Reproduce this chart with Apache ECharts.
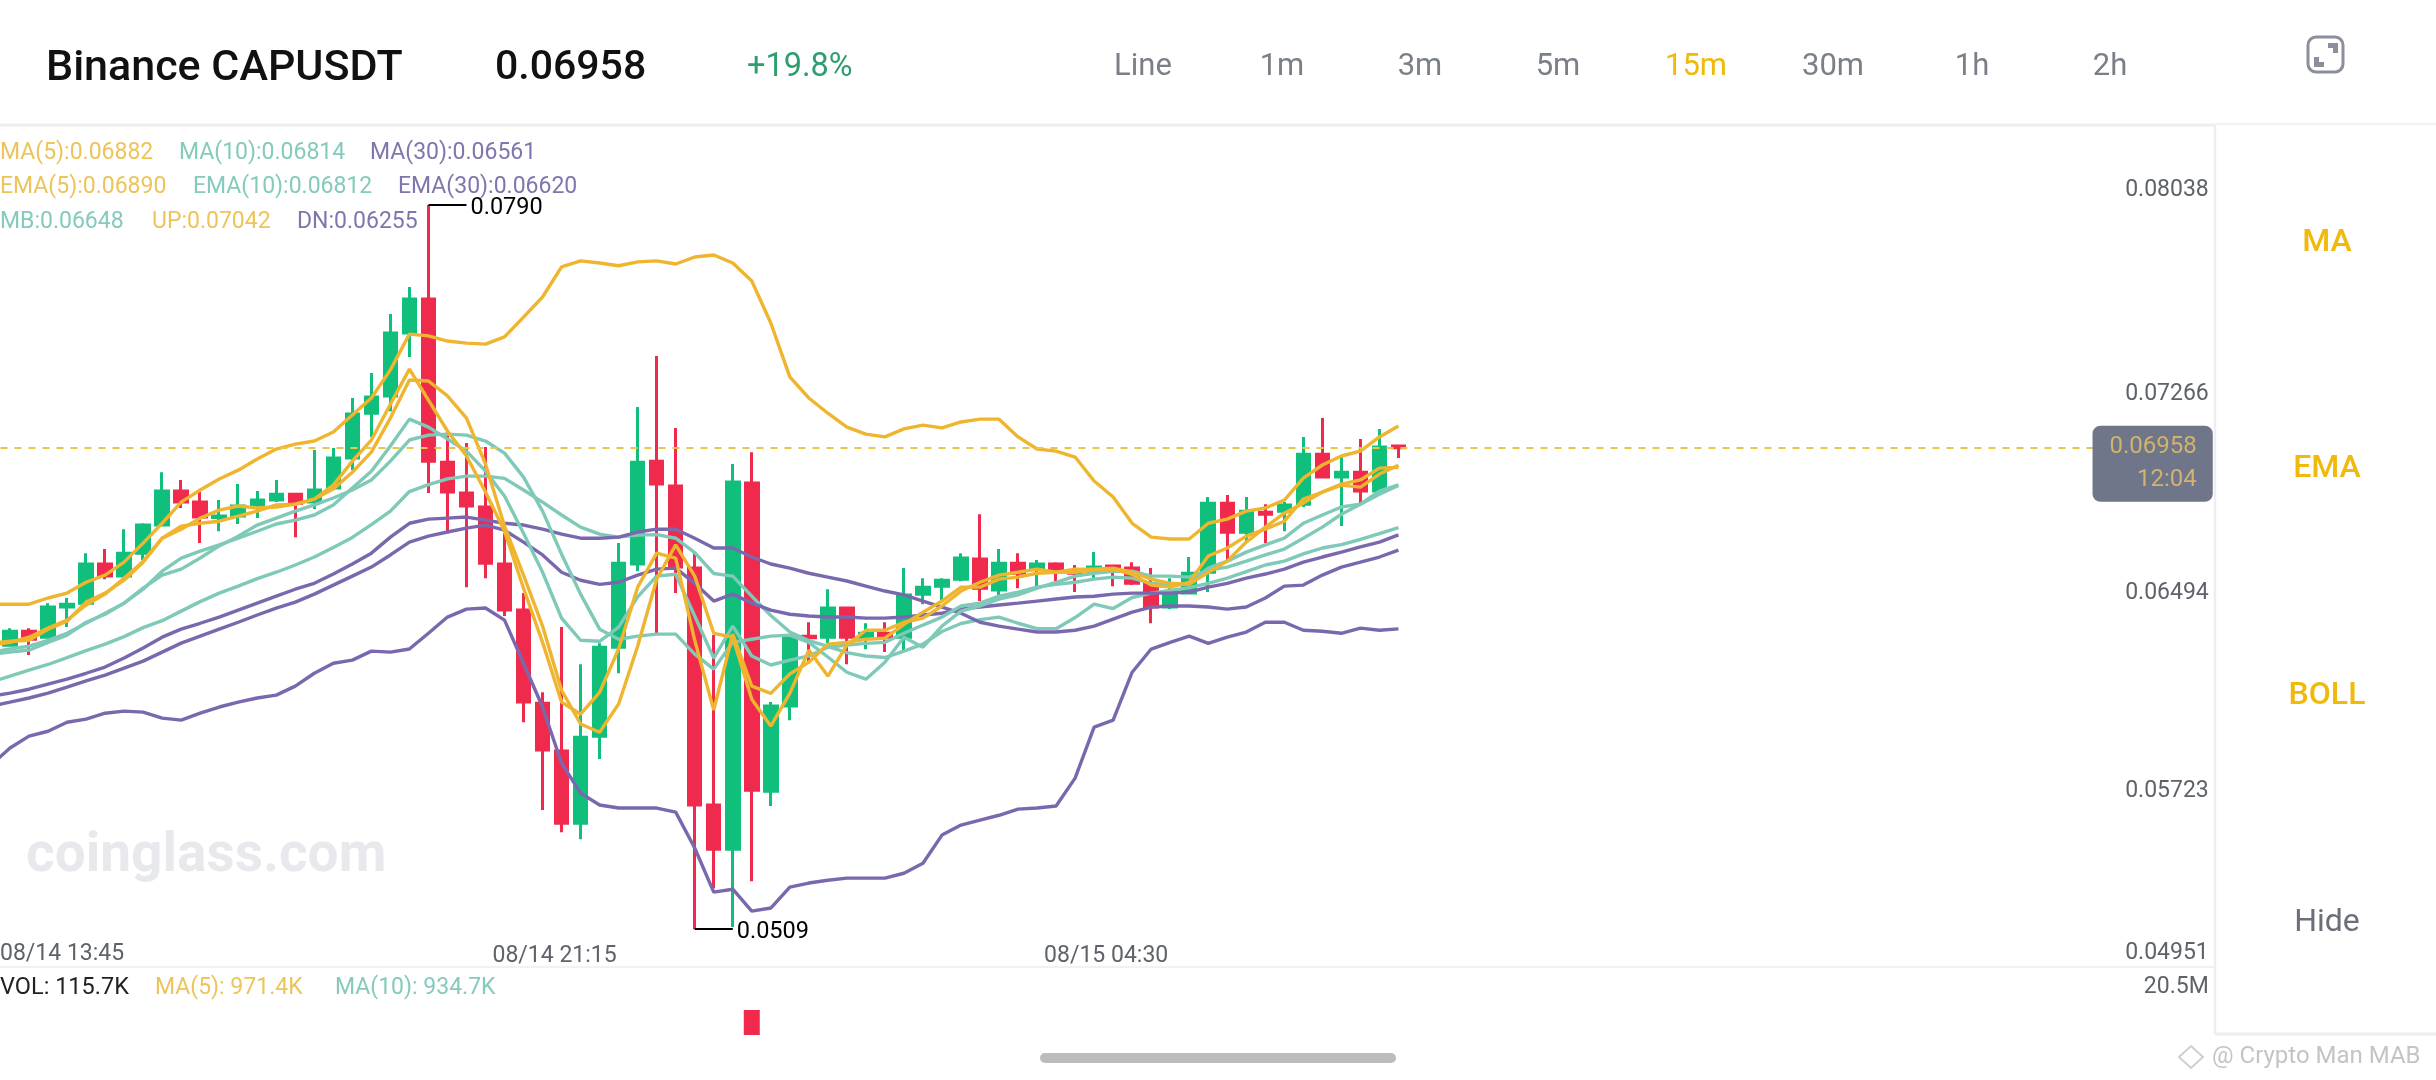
<!DOCTYPE html>
<html>
<head>
<meta charset="utf-8">
<title>Binance CAPUSDT</title>
<script src="https://cdn.jsdelivr.net/npm/echarts@6/dist/echarts.min.js"></script>
<style>html,body{margin:0;padding:0;background:#fff}#c{width:2436px;height:1080px}</style>
</head>
<body>
<div id="c"></div>
<script>
// Price-axis ticks and the volume scale
const priceTicks = [0.04951, 0.05723, 0.06494, 0.07266, 0.08038];
const volumeMax = 20500000;
const lastPrice = 0.06958;
const countdown = '12:04';
const highLabel = '0.0790', lowLabel = '0.0509';
const xLabelIndexes = [30, 59];
const timeframes = ['Line', '1m', '3m', '5m', '15m', '30m', '1h', '2h'];
const indicators = ['MA', 'EMA', 'BOLL', 'Hide'];

// Candles, one per 15 minutes from 08/14 14:00
const opens = [0.06192,0.06246,0.06223,0.06340,0.06355,0.06507,0.06460,0.06549,0.06658,0.06790,
0.06747,0.06687,0.06693,0.06736,0.06755,0.06778,0.06747,0.06802,0.06918,0.07092,
0.07159,0.07403,0.07535,0.06902,0.06782,0.06728,0.06507,0.06328,0.05967,0.05781,
0.05501,0.05839,0.06184,0.06507,0.06906,0.06810,0.06491,0.05572,0.05400,0.06821,
0.05625,0.05956,0.06227,0.06223,0.06336,0.06223,0.06238,0.06223,0.06390,0.06421,
0.06448,0.06526,0.06406,0.06510,0.06487,0.06507,0.06479,0.06479,0.06499,0.06491,
0.06428,0.06340,0.06394,0.06475,0.06743,0.06630,0.06708,0.06712,0.06739,0.06933,
0.06844,0.06863,0.06790,0.06965];
const closes = [0.06246,0.06215,0.06340,0.06351,0.06507,0.06460,0.06549,0.06658,0.06790,0.06747,
0.06689,0.06693,0.06732,0.06755,0.06778,0.06743,0.06794,0.06918,0.07089,0.07155,
0.07403,0.07535,0.06906,0.06786,0.06732,0.06510,0.06328,0.05971,0.05785,0.05501,
0.05835,0.06184,0.06510,0.06902,0.06817,0.06495,0.05572,0.05400,0.06825,0.05629,
0.05956,0.06223,0.06221,0.06336,0.06223,0.06238,0.06223,0.06387,0.06417,0.06444,
0.06530,0.06413,0.06510,0.06471,0.06507,0.06483,0.06471,0.06495,0.06495,0.06432,
0.06340,0.06398,0.06471,0.06743,0.06630,0.06712,0.06700,0.06736,0.06933,0.06844,
0.06863,0.06790,0.06961,0.06958];
const lows = [0.06192,0.06154,0.06223,0.06262,0.06340,0.06448,0.06460,0.06522,0.06658,0.06724,
0.06588,0.06634,0.06662,0.06685,0.06747,0.06611,0.06720,0.06802,0.06871,0.07000,
0.07100,0.07310,0.06782,0.06626,0.06417,0.06452,0.06305,0.05893,0.05552,0.05466,
0.05439,0.05750,0.06083,0.06479,0.06238,0.06394,0.05090,0.05249,0.05098,0.05276,
0.05568,0.05901,0.06122,0.06199,0.06118,0.06176,0.06165,0.06165,0.06351,0.06367,
0.06440,0.06363,0.06387,0.06413,0.06421,0.06440,0.06398,0.06452,0.06421,0.06425,
0.06277,0.06332,0.06394,0.06398,0.06522,0.06588,0.06588,0.06634,0.06728,0.06844,
0.06654,0.06736,0.06790,0.06918];
const highs = [0.06258,0.06258,0.06355,0.06375,0.06549,0.06565,0.06642,0.06665,0.06863,0.06833,
0.06786,0.06755,0.06817,0.06790,0.06833,0.06782,0.06949,0.06957,0.07151,0.07248,
0.07477,0.07582,0.07900,0.07019,0.06976,0.06961,0.06626,0.06394,0.06009,0.06262,
0.06118,0.06199,0.06588,0.07116,0.07314,0.07035,0.06549,0.06231,0.06895,0.06941,
0.05971,0.06231,0.06281,0.06409,0.06340,0.06277,0.06281,0.06491,0.06452,0.06452,
0.06549,0.06700,0.06565,0.06549,0.06522,0.06514,0.06503,0.06553,0.06499,0.06514,
0.06491,0.06452,0.06534,0.06767,0.06775,0.06767,0.06739,0.06747,0.07000,0.07073,
0.06922,0.06992,0.07031,0.06967];

// Indicator lines, one per 15 minutes from 08/14 13:45
const ma5 = [0.06192,0.06203,0.06223,0.06258,0.06289,0.06348,0.06390,0.06452,0.06518,0.06607,0.06642,
0.06685,0.06716,0.06732,0.06724,0.06728,0.06739,0.06759,0.06798,0.06863,0.06941,
0.07073,0.07221,0.07217,0.07159,0.07073,0.06895,0.06654,0.06464,0.06266,0.06017,
0.05886,0.05854,0.05964,0.06188,0.06448,0.06581,0.06460,0.06238,0.06223,0.05982,
0.05878,0.06005,0.06173,0.06072,0.06192,0.06250,0.06250,0.06281,0.06297,0.06344,
0.06402,0.06436,0.06464,0.06475,0.06487,0.06475,0.06487,0.06487,0.06491,0.06475,
0.06448,0.06432,0.06428,0.06475,0.06518,0.06592,0.06650,0.06704,0.06743,0.06786,
0.06817,0.06833,0.06879,0.06882];
const ema5 = [0.06200,0.06207,0.06211,0.06254,0.06285,0.06359,0.06394,0.06444,0.06514,0.06607,0.06654,
0.06665,0.06673,0.06693,0.06712,0.06736,0.06739,0.06759,0.06813,0.06906,0.06988,
0.07127,0.07263,0.07143,0.07023,0.06926,0.06786,0.06634,0.06413,0.06203,0.05971,
0.05924,0.06009,0.06177,0.06417,0.06549,0.06530,0.06211,0.05940,0.06235,0.06033,
0.06005,0.06080,0.06126,0.06196,0.06203,0.06215,0.06219,0.06273,0.06320,0.06363,
0.06417,0.06417,0.06448,0.06456,0.06471,0.06475,0.06475,0.06483,0.06487,0.06467,
0.06425,0.06417,0.06436,0.06538,0.06569,0.06615,0.06642,0.06673,0.06759,0.06786,
0.06813,0.06805,0.06856,0.06890];
const ma10 = [0.06165,0.06177,0.06188,0.06211,0.06238,0.06277,0.06316,0.06355,0.06413,0.06464,0.06487,
0.06530,0.06577,0.06615,0.06658,0.06685,0.06712,0.06736,0.06763,0.06794,0.06833,
0.06906,0.06988,0.07007,0.07011,0.07007,0.06984,0.06937,0.06844,0.06712,0.06545,
0.06390,0.06254,0.06215,0.06227,0.06235,0.06235,0.06157,0.06099,0.06203,0.06215,
0.06227,0.06231,0.06203,0.06146,0.06087,0.06060,0.06126,0.06223,0.06184,0.06266,
0.06324,0.06344,0.06371,0.06387,0.06413,0.06436,0.06460,0.06471,0.06479,0.06479,
0.06460,0.06460,0.06456,0.06483,0.06495,0.06518,0.06542,0.06565,0.06607,0.06650,
0.06700,0.06739,0.06790,0.06814];
const ema10 = [0.06157,0.06165,0.06173,0.06203,0.06231,0.06281,0.06312,0.06355,0.06409,0.06479,0.06530,
0.06557,0.06581,0.06607,0.06634,0.06662,0.06677,0.06697,0.06736,0.06802,0.06867,
0.06965,0.07069,0.07038,0.06992,0.06945,0.06867,0.06771,0.06626,0.06475,0.06297,
0.06211,0.06207,0.06262,0.06379,0.06460,0.06467,0.06305,0.06142,0.06266,0.06150,
0.06115,0.06134,0.06150,0.06184,0.06192,0.06199,0.06203,0.06238,0.06270,0.06301,
0.06344,0.06355,0.06382,0.06398,0.06417,0.06428,0.06436,0.06448,0.06456,0.06452,
0.06432,0.06425,0.06432,0.06491,0.06518,0.06553,0.06581,0.06607,0.06665,0.06697,
0.06728,0.06739,0.06778,0.06812];
const ma30 = [0.05994,0.06006,0.06021,0.06041,0.06060,0.06083,0.06107,0.06142,0.06181,0.06223,0.06254,
0.06277,0.06301,0.06328,0.06355,0.06382,0.06409,0.06432,0.06468,0.06507,0.06549,
0.06611,0.06665,0.06681,0.06685,0.06689,0.06677,0.06665,0.06658,0.06642,0.06623,
0.06607,0.06607,0.06611,0.06631,0.06642,0.06642,0.06607,0.06569,0.06569,0.06534,
0.06507,0.06491,0.06471,0.06456,0.06441,0.06421,0.06402,0.06387,0.06363,0.06340,
0.06316,0.06281,0.06266,0.06254,0.06243,0.06243,0.06250,0.06266,0.06293,0.06320,
0.06340,0.06344,0.06344,0.06340,0.06332,0.06340,0.06375,0.06421,0.06425,0.06464,
0.06495,0.06514,0.06534,0.06561];
const ema30 = [0.05956,0.05971,0.05987,0.06006,0.06029,0.06053,0.06076,0.06103,0.06130,0.06165,0.06200,
0.06227,0.06254,0.06281,0.06309,0.06336,0.06359,0.06390,0.06425,0.06460,0.06495,
0.06542,0.06592,0.06615,0.06631,0.06646,0.06658,0.06638,0.06592,0.06542,0.06475,
0.06444,0.06428,0.06436,0.06464,0.06487,0.06491,0.06432,0.06363,0.06390,0.06355,
0.06328,0.06312,0.06305,0.06301,0.06301,0.06297,0.06297,0.06301,0.06309,0.06316,
0.06332,0.06340,0.06348,0.06355,0.06363,0.06371,0.06379,0.06382,0.06390,0.06394,
0.06394,0.06394,0.06398,0.06417,0.06432,0.06452,0.06468,0.06487,0.06514,0.06534,
0.06553,0.06573,0.06592,0.06620];
const bollMid = [0.06049,0.06072,0.06095,0.06117,0.06144,0.06171,0.06196,0.06225,0.06260,0.06287,0.06324,
0.06361,0.06394,0.06421,0.06450,0.06475,0.06503,0.06534,0.06571,0.06610,0.06660,
0.06712,0.06788,0.06815,0.06837,0.06848,0.06848,0.06839,0.06794,0.06747,0.06697,
0.06650,0.06623,0.06611,0.06619,0.06621,0.06607,0.06551,0.06470,0.06460,0.06382,
0.06307,0.06243,0.06210,0.06187,0.06163,0.06150,0.06144,0.06169,0.06196,0.06245,
0.06276,0.06291,0.06301,0.06277,0.06256,0.06256,0.06299,0.06351,0.06334,0.06377,
0.06394,0.06404,0.06415,0.06432,0.06452,0.06477,0.06503,0.06518,0.06546,0.06569,
0.06582,0.06602,0.06625,0.06648];
const bollUp = [0.06351,0.06351,0.06351,0.06375,0.06394,0.06436,0.06464,0.06514,0.06588,0.06665,0.06747,
0.06794,0.06837,0.06871,0.06914,0.06953,0.06972,0.06984,0.07019,0.07085,0.07151,
0.07260,0.07399,0.07392,0.07372,0.07364,0.07360,0.07388,0.07465,0.07543,0.07660,
0.07683,0.07675,0.07664,0.07679,0.07683,0.07671,0.07698,0.07706,0.07675,0.07605,
0.07442,0.07233,0.07151,0.07092,0.07038,0.07011,0.07000,0.07031,0.07046,0.07035,
0.07058,0.07069,0.07069,0.07000,0.06953,0.06945,0.06922,0.06829,0.06767,0.06665,
0.06611,0.06604,0.06604,0.06665,0.06681,0.06712,0.06724,0.06755,0.06840,0.06891,
0.06926,0.06945,0.07000,0.07042];
const bollDn = [0.05727,0.05793,0.05839,0.05858,0.05893,0.05905,0.05928,0.05936,0.05932,0.05909,0.05901,
0.05928,0.05952,0.05971,0.05987,0.05998,0.06033,0.06083,0.06122,0.06134,0.06169,
0.06165,0.06177,0.06238,0.06301,0.06332,0.06336,0.06289,0.06122,0.05952,0.05734,
0.05618,0.05572,0.05560,0.05560,0.05560,0.05544,0.05405,0.05234,0.05245,0.05160,
0.05172,0.05253,0.05269,0.05280,0.05288,0.05288,0.05288,0.05307,0.05346,0.05455,
0.05494,0.05513,0.05532,0.05556,0.05560,0.05568,0.05676,0.05874,0.05901,0.06087,
0.06177,0.06203,0.06227,0.06199,0.06223,0.06243,0.06281,0.06281,0.06250,0.06246,
0.06238,0.06258,0.06250,0.06255];
// Only one volume bar is tall enough to be seen: [slot, volume]
const volumes = [[40, 20500000]];

const YEL = '#f0b90b', LINEYEL = '#efb52f', TEAL = '#7fc9b9', PUR = '#7a68ae';
const TXTY = '#ecc45a', TXTT = '#84cabd', TXTP = '#8076ad';
const GREEN = '#10bf7c', RED = '#ef2a4c';
const FONT = 'Roboto, sans-serif';
const AXISTXT = '#5e6269';

// 117 fifteen-minute slots, starting 08/14 13:45; the first is scrolled just off the left edge
const categories = [];
for (let k = 0; k < 117; k++) {
  const m = 13 * 60 + 45 + k * 15;
  const day = 14 + Math.floor(m / 1440);
  const mm = m % 1440;
  const p = n => String(n).padStart(2, '0');
  categories.push('08/' + day + ' ' + p(Math.floor(mm / 60)) + ':' + p(mm % 60));
}
const candles = [['-', '-', '-', '-']].concat(opens.map((o, i) => [o, closes[i], lows[i], highs[i]]));
const line = (name, data, color) => ({
  name, type: 'line', data, xAxisIndex: 0, yAxisIndex: 0, showSymbol: false, symbol: 'none', smooth: false,
  lineStyle: { color, width: 3.4 }, itemStyle: { color }, silent: true, animation: false, z: 3
});
const txt = (text, x, y, size, fill, opt) => ({
  type: 'text', silent: true, z: (opt && opt.z !== undefined) ? opt.z : 10,
  style: { text, x, y, fill, font: ((opt && opt.weight) || 400) + ' ' + size + 'px ' + FONT,
    textAlign: (opt && opt.align) || 'left', textVerticalAlign: 'middle', verticalAlign: 'middle' }
});
const hline = (x1, x2, y, color, w) => ({ type: 'line', silent: true, z: 1, shape: { x1, y1: y, x2, y2: y }, style: { stroke: color, lineWidth: w } });
const vline = (x, y1, y2, color, w) => ({ type: 'line', silent: true, z: 1, shape: { x1: x, y1, x2: x, y2 }, style: { stroke: color, lineWidth: w } });

const graphics = [
  hline(0, 2215, 125, '#eceef2', 3), hline(2215, 2436, 124, '#eceef2', 1.5),
  hline(0, 2215, 967, '#f1f1f3', 2),
  vline(2215, 125, 1034, '#eceef2', 2.5), hline(2215, 2436, 1034, '#eceef2', 3),
  txt('coinglass.com', 26, 857, 55, '#e8e9ec', { weight: 700, z: 0 }),
  txt('Binance CAPUSDT', 46, 69, 43, '#111', { weight: 500 }),
  txt('0.06958', 495, 69, 41, '#111', { weight: 500 }),
  txt('+19.8%', 747, 68, 32.5, '#2f9e6e', { weight: 400 }),
  txt('MA(5):0.06882', 0, 153, 23, TXTY), txt('MA(10):0.06814', 179, 153, 23, TXTT), txt('MA(30):0.06561', 370, 153, 23, TXTP),
  txt('EMA(5):0.06890', 0, 187, 23, TXTY), txt('EMA(10):0.06812', 193, 187, 23, TXTT), txt('EMA(30):0.06620', 398, 187, 23, TXTP),
  txt('MB:0.06648', 0, 222, 23, TXTT), txt('UP:0.07042', 152, 222, 23, TXTY), txt('DN:0.06255', 297, 222, 23, TXTP),
  txt(categories[0], 0, 954, 23, AXISTXT),
  txt('VOL: 115.7K', 0, 988, 23.5, '#222'), txt('MA(5): 971.4K', 155, 988, 23, TXTY), txt('MA(10): 934.7K', 335, 988, 23, TXTT),
  { type: 'rect', silent: true, z: 1, shape: { x: 1040, y: 1053, width: 356, height: 10, r: 5 }, style: { fill: '#bcbcbc' } },
  txt('@ Crypto Man MAB', 2212, 1057, 24, '#c4c4c4'),
  { type: 'polygon', silent: true, z: 1, shape: { points: [[2191, 1046], [2203, 1057], [2191, 1068], [2179, 1057]] }, style: { fill: 'none', stroke: '#cfcfcf', lineWidth: 2 } },
  // Fullscreen icon
  { type: 'rect', silent: true, z: 1, shape: { x: 2308, y: 37, width: 35, height: 35, r: 8 }, style: { fill: 'none', stroke: '#8b8f9c', lineWidth: 3 } },
  { type: 'polygon', silent: true, z: 1, shape: { points: [[2328, 43], [2338, 43], [2338, 53], [2333, 53], [2333, 48], [2328, 48]] }, style: { fill: '#8b8f9c' } },
  { type: 'polygon', silent: true, z: 1, shape: { points: [[2314, 57], [2319, 57], [2319, 62], [2324, 62], [2324, 67], [2314, 67]] }, style: { fill: '#8b8f9c' } }
];
const tfX = [1143, 1282, 1420, 1558, 1696, 1833, 1972, 2110];
timeframes.forEach((t, i) => graphics.push(txt(t, tfX[i], 67, 31, t === '15m' ? YEL : '#7b8088', { align: 'center' })));
const indY = [243, 469, 696, 923];
indicators.forEach((t, i) => graphics.push(txt(t, 2327, indY[i], 32, t === 'Hide' ? '#6b7078' : YEL, { align: 'center', weight: t === 'Hide' ? 400 : 500 })));

const leader = (fromIdx, toIdx, val, label, dy) => [
  { coord: [fromIdx, val], lineStyle: { color: '#000', width: 2, type: 'solid' },
    label: { show: true, position: 'end', formatter: label, color: '#000', fontSize: 23.5, fontFamily: FONT, distance: 4, offset: [0, dy] } },
  { coord: [toIdx, val] }
];
const tickRich = (p) => ({ fontSize: 23, fontFamily: FONT, color: AXISTXT, padding: p });
const priceLabel = v => {
  const s = v.toFixed(5);
  if (s === priceTicks[4].toFixed(5)) return '{t|' + s + '}';
  if (s === priceTicks[0].toFixed(5)) return '{b|' + s + '}';
  return '{m|' + s + '}';
};

const option = {
  animation: false,
  backgroundColor: '#fff',
  graphic: graphics,
  grid: [
    { left: 0.49, top: 169.4, width: 2206.3, height: 795.6, containLabel: false },
    { left: 0.49, top: 1010, width: 2206.3, height: 25, containLabel: false }
  ],
  xAxis: [
    { type: 'category', gridIndex: 0, data: categories, boundaryGap: true, min: 1, max: 116,
      axisLine: { show: false }, axisTick: { show: false }, splitLine: { show: false },
      axisLabel: { inside: true, margin: -3, verticalAlign: 'bottom', interval: i => xLabelIndexes.includes(i),
        color: AXISTXT, fontSize: 23, fontFamily: FONT, padding: [0, 14, 0, 0], hideOverlap: false } },
    { type: 'category', gridIndex: 1, data: categories, min: 1, max: 116, axisLine: { show: false }, axisTick: { show: false }, axisLabel: { show: false }, splitLine: { show: false } }
  ],
  yAxis: [
    { type: 'value', gridIndex: 0, position: 'right', min: priceTicks[0], max: priceTicks[4], scale: true,
      axisLine: { show: false }, axisTick: { show: false }, splitLine: { show: false },
      axisLabel: { inside: true, margin: -2, customValues: priceTicks, formatter: priceLabel, fontSize: 23,
        verticalAlign: 'top', verticalAlignMinLabel: 'bottom',
        rich: { t: tickRich([9, 0, 0, 0]), m: tickRich([14, 0, 0, 0]), b: tickRich([0, 0, 0, 0]) } } },
    { type: 'value', gridIndex: 1, position: 'right', min: 0, max: volumeMax,
      axisLine: { show: false }, axisTick: { show: false }, splitLine: { show: false },
      axisLabel: { inside: true, margin: -2, customValues: [volumeMax], formatter: v => (v / 1e6).toFixed(1) + 'M', color: AXISTXT, fontSize: 23, fontFamily: FONT,
        verticalAlign: 'bottom', verticalAlignMaxLabel: 'bottom', padding: [0, 0, 11, 0] } }
  ],
  series: [
    { name: 'CAPUSDT', type: 'candlestick', data: candles, xAxisIndex: 0, yAxisIndex: 0, barWidth: 13, silent: true, z: 2,
      itemStyle: { color: GREEN, color0: RED, borderColor: GREEN, borderColor0: RED, borderWidth: 3 } },
    line('UP', bollUp, LINEYEL), line('DN', bollDn, PUR), line('MB', bollMid, TEAL),
    line('MA30', ma30, PUR), line('EMA30', ema30, PUR),
    line('MA10', ma10, TEAL), line('EMA10', ema10, TEAL),
    line('MA5', ma5, LINEYEL), line('EMA5', ema5, LINEYEL),
    { name: 'Volume', type: 'bar', data: volumes, xAxisIndex: 1, yAxisIndex: 1, barWidth: 16, silent: true, itemStyle: { color: RED } },
    { name: 'marks', type: 'line', data: [], xAxisIndex: 0, yAxisIndex: 0, silent: true, z: 6,
      markLine: { silent: true, symbol: 'none', animation: false, precision: 5,
        data: [
          { yAxis: lastPrice, lineStyle: { color: '#e9c64a', width: 2, type: [7, 7] },
            label: { show: true, position: 'insideEnd', align: 'right', verticalAlign: 'middle', offset: [6, 16], distance: 0,
              formatter: lastPrice.toFixed(5) + '\n' + countdown, backgroundColor: '#6f7689', borderRadius: 8, padding: [5, 16, 5, 17],
              color: '#d2b36c', fontSize: 24, lineHeight: 33, fontFamily: FONT } },
          leader(23, 25, highs[22], highLabel, 3),
          leader(37, 39, lows[36], lowLabel, 3)
        ] } }
  ]
};
const chart = echarts.init(document.getElementById('c'), null, { renderer: 'canvas', width: 2436, height: 1080 });
chart.setOption(option);
</script>
</body>
</html>
